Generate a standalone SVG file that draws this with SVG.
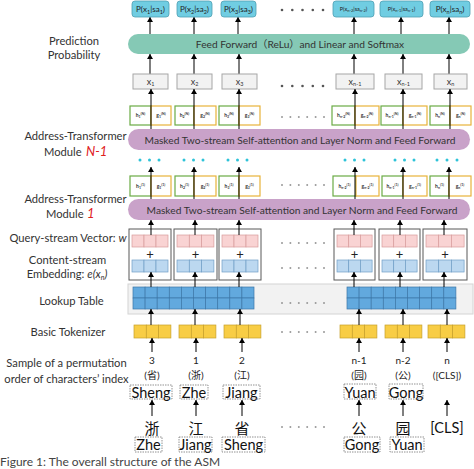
<svg xmlns="http://www.w3.org/2000/svg" width="474" height="469" viewBox="0 0 474 469">
<defs>
<marker id="ah" markerWidth="5" markerHeight="6" refX="5" refY="3" orient="auto" markerUnits="userSpaceOnUse"><path d="M0,0 L5,3 L0,6 z" fill="#000"/></marker>
<style>
text{font-family:Lato,"Liberation Sans",sans-serif;fill:#333}
.lbl{font-size:11.2px;text-anchor:middle}
.red{fill:#e0201c;font-style:italic;font-size:13px}
.arr{stroke:#000;stroke-width:1;fill:none;marker-end:url(#ah)}
.pbox{fill:#70cde2;stroke:#4f9fb3;stroke-width:0.8}
.pt{font-size:8px;text-anchor:middle;fill:#222}
.pts{font-size:5.5px;text-anchor:middle;fill:#222}
.sb{font-size:5.5px}
.sbs{font-size:4px}
.ff{fill:#85c9b5}
.pu{fill:#c9a2c9}
.bt{font-size:10.2px;text-anchor:middle;fill:#333}
.xbox{fill:#f2f2f2;stroke:#a6a6a6;stroke-width:1}
.xt{font-size:9px;text-anchor:middle;fill:#333}
.hb{fill:#fff;stroke:#6aab45;stroke-width:1.2}
.gb{fill:#fff;stroke:#e8b33a;stroke-width:1.2}
.ht{font-size:5px;font-weight:bold;text-anchor:middle;fill:#333}
.hs{font-size:3.5px}
.cd{fill:#2ec3d8}
.gd{fill:#999}
.dd{fill:#555}
.ob{fill:#fff;stroke:#595959;stroke-width:1}
.pk{fill:#f9d3d3;stroke:#d89c9c;stroke-width:0.7}
.lb{fill:#bcd8f0;stroke:#6f9ec6;stroke-width:0.7}
.plus{font-size:13px;text-anchor:middle;fill:#222}
.lt{fill:#f2f2f2;stroke:#d4d4d4;stroke-width:1}
.lc{fill:#62a9de;stroke:#3c77a8;stroke-width:0.7}
.tk{fill:#f8cd45;stroke:#c7a02a;stroke-width:0.7}
.num{font-size:10px;text-anchor:middle;fill:#222}
.par{font-size:10px;text-anchor:middle;fill:#222;font-family:Lato,"Noto Sans CJK SC",sans-serif}
.nb{fill:#fff;stroke:#777;stroke-width:0.8;stroke-dasharray:1.5,1}
.nm{font-size:14.5px;text-anchor:middle;fill:#111}
.cj{font-size:15px;text-anchor:middle;fill:#111;font-family:"Noto Sans CJK SC",sans-serif}
</style>
</defs>
<rect width="474" height="469" fill="#fff"/>

<g id="labels">
<text class="lbl" x="74" y="45">Prediction</text>
<text class="lbl" x="74" y="59">Probability</text>
<text class="lbl" x="75.5" y="140">Address-Transformer</text>
<text class="lbl" x="44" y="156" style="text-anchor:start">Module</text>
<text class="red" x="86" y="156">N-1</text>
<text class="lbl" x="75.5" y="203">Address-Transformer</text>
<text class="lbl" x="46" y="218" style="text-anchor:start">Module</text>
<text class="red" x="87" y="218">1</text>
<text class="lbl" x="68" y="242">Query-stream Vector: <tspan font-style="italic">w</tspan></text>
<text class="lbl" x="67.5" y="264">Content-stream</text>
<text class="lbl" x="67" y="278">Embedding: <tspan font-style="italic">e(x</tspan><tspan font-style="italic" font-size="7px" dy="2">n</tspan><tspan font-style="italic" dy="-2">)</tspan></text>
<text class="lbl" x="71.5" y="305">Lookup Table</text>
<text class="lbl" x="68" y="336">Basic Tokenizer</text>
<text class="lbl" x="66.5" y="367">Sample of a permutation</text>
<text class="lbl" x="66.5" y="383" style="font-family:Lato,'Noto Sans CJK SC',sans-serif">order of characters’ index</text>
<text x="0" y="466" style="font-size:12px;fill:#444">Figure 1: The overall structure of the ASM</text>
</g>

<g id="connectors">
<line class="arr" x1="150" y1="34" x2="150" y2="17"/>
<line class="arr" x1="194" y1="34" x2="194" y2="17"/>
<line class="arr" x1="238" y1="34" x2="238" y2="17"/>
<line class="arr" x1="354" y1="34" x2="354" y2="17"/>
<line class="arr" x1="401" y1="34" x2="401" y2="17"/>
<line class="arr" x1="449" y1="34" x2="449" y2="17"/>
<line class="arr" x1="150" y1="74" x2="150" y2="54"/>
<line class="arr" x1="194" y1="74" x2="194" y2="54"/>
<line class="arr" x1="239" y1="74" x2="239" y2="54"/>
<line class="arr" x1="354" y1="74" x2="354" y2="54"/>
<line class="arr" x1="403" y1="74" x2="403" y2="54"/>
<line class="arr" x1="449" y1="74" x2="449" y2="54"/>
</g>

<g id="prob">
<rect class="pbox" x="132" y="1" width="37" height="16" rx="3"/>
<rect class="pbox" x="177" y="1" width="35" height="16" rx="3"/>
<rect class="pbox" x="221" y="1" width="35" height="16" rx="3"/>
<rect class="pbox" x="333" y="1" width="41" height="16" rx="3"/>
<rect class="pbox" x="380" y="1" width="43" height="16" rx="3"/>
<rect class="pbox" x="430" y="1" width="40" height="16" rx="3"/>
<text class="pt" x="150.5" y="12">P(x<tspan class="sb" dy="1.5">1</tspan><tspan dy="-1.5">|sa</tspan><tspan class="sb" dy="1.5">1</tspan><tspan dy="-1.5">)</tspan></text>
<text class="pt" x="194.5" y="12">P(x<tspan class="sb" dy="1.5">2</tspan><tspan dy="-1.5">|sa</tspan><tspan class="sb" dy="1.5">2</tspan><tspan dy="-1.5">)</tspan></text>
<text class="pt" x="238.5" y="12">P(x<tspan class="sb" dy="1.5">3</tspan><tspan dy="-1.5">|sa</tspan><tspan class="sb" dy="1.5">3</tspan><tspan dy="-1.5">)</tspan></text>
<text class="pts" x="353.5" y="11">P(x<tspan class="sbs" dy="1">n-2</tspan><tspan dy="-1">|sa</tspan><tspan class="sbs" dy="1">n-2</tspan><tspan dy="-1">)</tspan></text>
<text class="pts" x="401.5" y="11">P(x<tspan class="sbs" dy="1">n-1</tspan><tspan dy="-1">|sa</tspan><tspan class="sbs" dy="1">n-1</tspan><tspan dy="-1">)</tspan></text>
<text class="pt" x="450" y="12">P(x<tspan class="sb" dy="1.5">n</tspan><tspan dy="-1.5">|sa</tspan><tspan class="sb" dy="1.5">n</tspan><tspan dy="-1.5">)</tspan></text>
<g class="dd"><circle cx="282" cy="10" r="1.3"/><circle cx="292.3" cy="10" r="1.3"/><circle cx="302.5" cy="10" r="1.3"/><circle cx="312.8" cy="10" r="1.3"/><circle cx="323" cy="10" r="1.3"/></g>
</g>

<g id="feedforward">
<rect class="ff" x="128" y="34" width="342" height="20" rx="10"/>
<text class="bt" x="300" y="48" style="font-family:Lato,'Noto Sans CJK SC',sans-serif">Feed Forward（ReLu）and Linear and Softmax</text>
</g>

<g id="xrow">
<rect class="xbox" x="133" y="74" width="35" height="15"/>
<rect class="xbox" x="177" y="74" width="35" height="15"/>
<rect class="xbox" x="222" y="74" width="35" height="15"/>
<rect class="xbox" x="336" y="74" width="38" height="15"/>
<rect class="xbox" x="385" y="74" width="37" height="15"/>
<rect class="xbox" x="434" y="74" width="33" height="15"/>
<text class="xt" x="150.5" y="84.5">x<tspan class="sb" dy="1.5">1</tspan></text>
<text class="xt" x="194.5" y="84.5">x<tspan class="sb" dy="1.5">2</tspan></text>
<text class="xt" x="239.5" y="84.5">x<tspan class="sb" dy="1.5">3</tspan></text>
<text class="xt" x="355" y="84.5">x<tspan class="sb" dy="1.5">n-1</tspan></text>
<text class="xt" x="403.5" y="84.5">x<tspan class="sb" dy="1.5">n-1</tspan></text>
<text class="xt" x="450.5" y="84.5">x<tspan class="sb" dy="1.5">n</tspan></text>
<g class="dd"><circle cx="282" cy="86" r="1.3"/><circle cx="292.3" cy="86" r="1.3"/><circle cx="302.5" cy="86" r="1.3"/><circle cx="312.8" cy="86" r="1.3"/><circle cx="323" cy="86" r="1.3"/></g>
</g>

<g id="moduleN">
<rect class="hb" x="130" y="106" width="21" height="19"/><rect class="gb" x="151" y="106" width="20" height="19"/>
<rect class="hb" x="175" y="106" width="19" height="19"/><rect class="gb" x="194" y="106" width="22" height="19"/>
<rect class="hb" x="219" y="106" width="20" height="19"/><rect class="gb" x="239" y="106" width="21" height="19"/>
<rect class="hb" x="332" y="106" width="23" height="19"/><rect class="gb" x="355" y="106" width="24" height="19"/>
<rect class="hb" x="381" y="106" width="22" height="19"/><rect class="gb" x="403" y="106" width="24" height="19"/>
<rect class="hb" x="430" y="106" width="20" height="19"/><rect class="gb" x="450" y="106" width="21" height="19"/>
<text class="ht" x="140.5" y="117">h<tspan class="hs" dy="1">1</tspan><tspan class="hs" dy="-3">(N)</tspan></text>
<text class="ht" x="161" y="117">g<tspan class="hs" dy="1">1</tspan><tspan class="hs" dy="-3">(N)</tspan></text>
<text class="ht" x="184.5" y="117">h<tspan class="hs" dy="1">2</tspan><tspan class="hs" dy="-3">(N)</tspan></text>
<text class="ht" x="205" y="117">g<tspan class="hs" dy="1">2</tspan><tspan class="hs" dy="-3">(N)</tspan></text>
<text class="ht" x="229" y="117">h<tspan class="hs" dy="1">3</tspan><tspan class="hs" dy="-3">(N)</tspan></text>
<text class="ht" x="249.5" y="117">g<tspan class="hs" dy="1">3</tspan><tspan class="hs" dy="-3">(N)</tspan></text>
<text class="ht" x="343.5" y="117">h<tspan class="hs" dy="1">n-2</tspan><tspan class="hs" dy="-3">(N)</tspan></text>
<text class="ht" x="367" y="117">g<tspan class="hs" dy="1">n-2</tspan><tspan class="hs" dy="-3">(N)</tspan></text>
<text class="ht" x="392" y="117">h<tspan class="hs" dy="1">n-1</tspan><tspan class="hs" dy="-3">(N)</tspan></text>
<text class="ht" x="415" y="117">g<tspan class="hs" dy="1">n-1</tspan><tspan class="hs" dy="-3">(N)</tspan></text>
<text class="ht" x="440" y="117">h<tspan class="hs" dy="1">n</tspan><tspan class="hs" dy="-3">(N)</tspan></text>
<text class="ht" x="460.5" y="117">g<tspan class="hs" dy="1">n</tspan><tspan class="hs" dy="-3">(N)</tspan></text>
<g class="gd"><circle cx="282" cy="117" r="1"/><circle cx="290.4" cy="117" r="1"/><circle cx="298.8" cy="117" r="1"/><circle cx="307.2" cy="117" r="1"/><circle cx="315.6" cy="117" r="1"/><circle cx="324" cy="117" r="1"/></g>
<line class="arr" x1="151" y1="129" x2="151" y2="89"/>
<line class="arr" x1="194" y1="129" x2="194" y2="89"/>
<line class="arr" x1="239" y1="129" x2="239" y2="89"/>
<line class="arr" x1="355" y1="129" x2="355" y2="89"/>
<line class="arr" x1="403" y1="129" x2="403" y2="89"/>
<line class="arr" x1="450" y1="129" x2="450" y2="89"/>
<rect class="pu" x="128" y="129" width="342" height="21" rx="10.5"/>
<text class="bt" x="300" y="143.5">Masked Two-stream Self-attention  and  Layer Norm and Feed Forward</text>
</g>

<g id="dots" class="cd">
<circle cx="140" cy="160" r="1.5"/><circle cx="149.5" cy="160" r="1.5"/><circle cx="159" cy="160" r="1.5"/>
<circle cx="184" cy="160" r="1.5"/><circle cx="193.5" cy="160" r="1.5"/><circle cx="203" cy="160" r="1.5"/>
<circle cx="228" cy="160" r="1.5"/><circle cx="237.5" cy="160" r="1.5"/><circle cx="247" cy="160" r="1.5"/>
<circle cx="345" cy="160" r="1.5"/><circle cx="354.5" cy="160" r="1.5"/><circle cx="364" cy="160" r="1.5"/>
<circle cx="395" cy="160" r="1.5"/><circle cx="404.5" cy="160" r="1.5"/><circle cx="414" cy="160" r="1.5"/>
<circle cx="437" cy="160" r="1.5"/><circle cx="447" cy="160" r="1.5"/><circle cx="457" cy="160" r="1.5"/>
</g>

<g id="module1">
<rect class="hb" x="130" y="176" width="21" height="20"/><rect class="gb" x="151" y="176" width="20" height="20"/>
<rect class="hb" x="175" y="176" width="19" height="20"/><rect class="gb" x="194" y="176" width="22" height="20"/>
<rect class="hb" x="219" y="176" width="20" height="20"/><rect class="gb" x="239" y="176" width="21" height="20"/>
<rect class="hb" x="333" y="176" width="23" height="20"/><rect class="gb" x="356" y="176" width="23" height="20"/>
<rect class="hb" x="382" y="176" width="21" height="20"/><rect class="gb" x="403" y="176" width="24" height="20"/>
<rect class="hb" x="430" y="176" width="19" height="20"/><rect class="gb" x="449" y="176" width="22" height="20"/>
<text class="ht" x="140.5" y="188">h<tspan class="hs" dy="1">1</tspan><tspan class="hs" dy="-3">(1)</tspan></text>
<text class="ht" x="161" y="188">g<tspan class="hs" dy="1">1</tspan><tspan class="hs" dy="-3">(1)</tspan></text>
<text class="ht" x="184.5" y="188">h<tspan class="hs" dy="1">2</tspan><tspan class="hs" dy="-3">(1)</tspan></text>
<text class="ht" x="205" y="188">g<tspan class="hs" dy="1">2</tspan><tspan class="hs" dy="-3">(1)</tspan></text>
<text class="ht" x="229" y="188">h<tspan class="hs" dy="1">3</tspan><tspan class="hs" dy="-3">(1)</tspan></text>
<text class="ht" x="249.5" y="188">g<tspan class="hs" dy="1">3</tspan><tspan class="hs" dy="-3">(1)</tspan></text>
<text class="ht" x="344.5" y="188">h<tspan class="hs" dy="1">n-2</tspan><tspan class="hs" dy="-3">(1)</tspan></text>
<text class="ht" x="367.5" y="188">g<tspan class="hs" dy="1">n-2</tspan><tspan class="hs" dy="-3">(1)</tspan></text>
<text class="ht" x="392.5" y="188">h<tspan class="hs" dy="1">n-1</tspan><tspan class="hs" dy="-3">(1)</tspan></text>
<text class="ht" x="415" y="188">g<tspan class="hs" dy="1">n-1</tspan><tspan class="hs" dy="-3">(1)</tspan></text>
<text class="ht" x="439.5" y="188">h<tspan class="hs" dy="1">n</tspan><tspan class="hs" dy="-3">(1)</tspan></text>
<text class="ht" x="460" y="188">g<tspan class="hs" dy="1">n</tspan><tspan class="hs" dy="-3">(1)</tspan></text>
<g class="gd"><circle cx="282" cy="185" r="1"/><circle cx="290.4" cy="185" r="1"/><circle cx="298.8" cy="185" r="1"/><circle cx="307.2" cy="185" r="1"/><circle cx="315.6" cy="185" r="1"/><circle cx="324" cy="185" r="1"/></g>
<line class="arr" x1="151" y1="199" x2="151" y2="167"/>
<line class="arr" x1="194" y1="199" x2="194" y2="167"/>
<line class="arr" x1="239" y1="199" x2="239" y2="167"/>
<line class="arr" x1="355" y1="199" x2="355" y2="167"/>
<line class="arr" x1="403" y1="199" x2="403" y2="167"/>
<line class="arr" x1="449" y1="199" x2="449" y2="167"/>
<rect class="pu" x="128" y="199" width="342" height="21" rx="10.5"/>
<text class="bt" x="302" y="213.5">Masked Two-stream Self-attention  and Layer Norm and Feed Forward</text>
</g>

<g id="embedding">
<rect class="ob" x="129" y="229" width="42" height="51"/>
<rect class="ob" x="174" y="229" width="43" height="51"/>
<rect class="ob" x="219" y="229" width="42" height="51"/>
<rect class="ob" x="334" y="229" width="41" height="51"/>
<rect class="ob" x="379" y="229" width="41" height="51"/>
<rect class="ob" x="423" y="229" width="44" height="51"/>
<g class="pk">
<rect x="132" y="235" width="12" height="12"/><rect x="144" y="235" width="12" height="12"/><rect x="156" y="235" width="12" height="12"/>
<rect x="177" y="235" width="12.3" height="12"/><rect x="189.3" y="235" width="12.3" height="12"/><rect x="201.6" y="235" width="12.3" height="12"/>
<rect x="222" y="235" width="12" height="12"/><rect x="234" y="235" width="12" height="12"/><rect x="246" y="235" width="12" height="12"/>
<rect x="337" y="235" width="11.7" height="12"/><rect x="348.7" y="235" width="11.7" height="12"/><rect x="360.4" y="235" width="11.7" height="12"/>
<rect x="382" y="235" width="11.7" height="12"/><rect x="393.7" y="235" width="11.7" height="12"/><rect x="405.4" y="235" width="11.7" height="12"/>
<rect x="426" y="235" width="12.7" height="12"/><rect x="438.7" y="235" width="12.7" height="12"/><rect x="451.4" y="235" width="12.7" height="12"/>
</g>
<g class="lb">
<rect x="132" y="260" width="12" height="12"/><rect x="144" y="260" width="12" height="12"/><rect x="156" y="260" width="12" height="12"/>
<rect x="177" y="260" width="12.3" height="12"/><rect x="189.3" y="260" width="12.3" height="12"/><rect x="201.6" y="260" width="12.3" height="12"/>
<rect x="222" y="260" width="12" height="12"/><rect x="234" y="260" width="12" height="12"/><rect x="246" y="260" width="12" height="12"/>
<rect x="337" y="260" width="11.7" height="12"/><rect x="348.7" y="260" width="11.7" height="12"/><rect x="360.4" y="260" width="11.7" height="12"/>
<rect x="382" y="260" width="11.7" height="12"/><rect x="393.7" y="260" width="11.7" height="12"/><rect x="405.4" y="260" width="11.7" height="12"/>
<rect x="426" y="260" width="12.7" height="12"/><rect x="438.7" y="260" width="12.7" height="12"/><rect x="451.4" y="260" width="12.7" height="12"/>
</g>
<text class="plus" x="150" y="258.5">+</text>
<text class="plus" x="195.5" y="258.5">+</text>
<text class="plus" x="240" y="258.5">+</text>
<text class="plus" x="354.5" y="258.5">+</text>
<text class="plus" x="399.5" y="258.5">+</text>
<text class="plus" x="445" y="258.5">+</text>
<g class="gd"><circle cx="282" cy="243" r="1"/><circle cx="290.4" cy="243" r="1"/><circle cx="298.8" cy="243" r="1"/><circle cx="307.2" cy="243" r="1"/><circle cx="315.6" cy="243" r="1"/><circle cx="324" cy="243" r="1"/></g>
<g class="gd"><circle cx="282" cy="268" r="1"/><circle cx="290.4" cy="268" r="1"/><circle cx="298.8" cy="268" r="1"/><circle cx="307.2" cy="268" r="1"/><circle cx="315.6" cy="268" r="1"/><circle cx="324" cy="268" r="1"/></g>
<line class="arr" x1="151" y1="235" x2="151" y2="220"/>
<line class="arr" x1="195" y1="235" x2="195" y2="220"/>
<line class="arr" x1="239" y1="235" x2="239" y2="220"/>
<line class="arr" x1="354" y1="235" x2="354" y2="220"/>
<line class="arr" x1="400" y1="235" x2="400" y2="220"/>
<line class="arr" x1="444" y1="235" x2="444" y2="220"/>
</g>

<g id="lookup">
<rect class="lt" x="128" y="284" width="345" height="30"/>
<g class="lc">
<rect x="133" y="287" width="12.1" height="11"/><rect x="145.1" y="287" width="12.1" height="11"/><rect x="157.2" y="287" width="12.1" height="11"/><rect x="169.3" y="287" width="12.1" height="11"/><rect x="181.4" y="287" width="12.1" height="11"/><rect x="193.5" y="287" width="12.1" height="11"/><rect x="205.6" y="287" width="12.1" height="11"/><rect x="217.7" y="287" width="12.1" height="11"/><rect x="229.8" y="287" width="12.1" height="11"/><rect x="241.9" y="287" width="12.1" height="11"/>
<rect x="133" y="298" width="12.1" height="11"/><rect x="145.1" y="298" width="12.1" height="11"/><rect x="157.2" y="298" width="12.1" height="11"/><rect x="169.3" y="298" width="12.1" height="11"/><rect x="181.4" y="298" width="12.1" height="11"/><rect x="193.5" y="298" width="12.1" height="11"/><rect x="205.6" y="298" width="12.1" height="11"/><rect x="217.7" y="298" width="12.1" height="11"/><rect x="229.8" y="298" width="12.1" height="11"/><rect x="241.9" y="298" width="12.1" height="11"/>
<rect x="347" y="287" width="12.1" height="11"/><rect x="359.1" y="287" width="12.1" height="11"/><rect x="371.2" y="287" width="12.1" height="11"/><rect x="383.3" y="287" width="12.1" height="11"/><rect x="395.4" y="287" width="12.1" height="11"/><rect x="407.5" y="287" width="12.1" height="11"/><rect x="419.6" y="287" width="12.1" height="11"/><rect x="431.7" y="287" width="12.1" height="11"/><rect x="443.8" y="287" width="12.1" height="11"/>
<rect x="347" y="298" width="12.1" height="11"/><rect x="359.1" y="298" width="12.1" height="11"/><rect x="371.2" y="298" width="12.1" height="11"/><rect x="383.3" y="298" width="12.1" height="11"/><rect x="395.4" y="298" width="12.1" height="11"/><rect x="407.5" y="298" width="12.1" height="11"/><rect x="419.6" y="298" width="12.1" height="11"/><rect x="431.7" y="298" width="12.1" height="11"/><rect x="443.8" y="298" width="12.1" height="11"/>
</g>
<g class="gd"><circle cx="282" cy="303" r="1"/><circle cx="290.4" cy="303" r="1"/><circle cx="298.8" cy="303" r="1"/><circle cx="307.2" cy="303" r="1"/><circle cx="315.6" cy="303" r="1"/><circle cx="324" cy="303" r="1"/></g>
<line class="arr" x1="151" y1="287" x2="151" y2="272"/>
<line class="arr" x1="195" y1="287" x2="195" y2="272"/>
<line class="arr" x1="239" y1="287" x2="239" y2="272"/>
<line class="arr" x1="354" y1="287" x2="354" y2="272"/>
<line class="arr" x1="400" y1="287" x2="400" y2="272"/>
<line class="arr" x1="444" y1="287" x2="444" y2="272"/>
</g>

<g id="tokenizer">
<g class="tk">
<rect x="134" y="325" width="12.3" height="13"/><rect x="146.3" y="325" width="12.3" height="13"/><rect x="158.6" y="325" width="12.3" height="13"/>
<rect x="179" y="325" width="12.3" height="13"/><rect x="191.3" y="325" width="12.3" height="13"/><rect x="203.6" y="325" width="12.3" height="13"/>
<rect x="224" y="325" width="12.3" height="13"/><rect x="236.3" y="325" width="12.3" height="13"/><rect x="248.6" y="325" width="12.3" height="13"/>
<rect x="340" y="325" width="12.3" height="13"/><rect x="352.3" y="325" width="12.3" height="13"/><rect x="364.6" y="325" width="12.3" height="13"/>
<rect x="385" y="325" width="12.3" height="13"/><rect x="397.3" y="325" width="12.3" height="13"/><rect x="409.6" y="325" width="12.3" height="13"/>
<rect x="428" y="325" width="12.3" height="13"/><rect x="440.3" y="325" width="12.3" height="13"/><rect x="452.6" y="325" width="12.3" height="13"/>
</g>
<g class="gd"><circle cx="282" cy="332" r="1"/><circle cx="290.4" cy="332" r="1"/><circle cx="298.8" cy="332" r="1"/><circle cx="307.2" cy="332" r="1"/><circle cx="315.6" cy="332" r="1"/><circle cx="324" cy="332" r="1"/></g>
<line class="arr" x1="151" y1="325" x2="151" y2="309"/>
<line class="arr" x1="195" y1="325" x2="195" y2="309"/>
<line class="arr" x1="240" y1="325" x2="240" y2="309"/>
<line class="arr" x1="359" y1="325" x2="359" y2="309"/>
<line class="arr" x1="403" y1="325" x2="403" y2="309"/>
<line class="arr" x1="447" y1="325" x2="447" y2="309"/>
</g>

<g id="sequence">
<line class="arr" x1="152" y1="352" x2="152" y2="338"/>
<line class="arr" x1="196" y1="352" x2="196" y2="338"/>
<line class="arr" x1="242" y1="352" x2="242" y2="338"/>
<line class="arr" x1="359" y1="352" x2="359" y2="338"/>
<line class="arr" x1="403" y1="352" x2="403" y2="338"/>
<line class="arr" x1="447" y1="352" x2="447" y2="338"/>
<text class="num" x="152" y="364">3</text>
<text class="num" x="196" y="364">1</text>
<text class="num" x="242" y="364">2</text>
<text class="num" x="359" y="364">n-1</text>
<text class="num" x="403" y="364">n-2</text>
<text class="num" x="447" y="364">n</text>
<text class="par" x="152" y="379">(省)</text>
<text class="par" x="196" y="379">(浙)</text>
<text class="par" x="242" y="379">(江)</text>
<text class="par" x="359" y="379">(园)</text>
<text class="par" x="403" y="379">(公)</text>
<text class="par" x="447" y="379">([CLS])</text>
<rect class="nb" x="130" y="385" width="42" height="14"/>
<rect class="nb" x="180" y="385" width="28" height="14"/>
<rect class="nb" x="223" y="385" width="37" height="14"/>
<rect class="nb" x="344" y="384" width="32" height="15"/>
<rect class="nb" x="389" y="384" width="34" height="15"/>
<text class="nm" x="151" y="397.5">Sheng</text>
<text class="nm" x="194" y="397.5">Zhe</text>
<text class="nm" x="241.5" y="397.5">Jiang</text>
<text class="nm" x="360" y="397.5">Yuan</text>
<text class="nm" x="406" y="397.5">Gong</text>
<line class="arr" x1="152" y1="416" x2="152" y2="400"/>
<line class="arr" x1="196" y1="416" x2="196" y2="400"/>
<line class="arr" x1="242" y1="416" x2="242" y2="400"/>
<line class="arr" x1="359" y1="416" x2="359" y2="400"/>
<line class="arr" x1="403" y1="416" x2="403" y2="400"/>
<line class="arr" x1="447" y1="416" x2="447" y2="400"/>
<text class="cj" x="152" y="434">浙</text>
<text class="cj" x="196" y="434">江</text>
<text class="cj" x="242" y="434">省</text>
<text class="cj" x="359" y="434">公</text>
<text class="cj" x="403" y="434">园</text>
<text class="nm" x="447" y="433">[CLS]</text>
<g class="gd"><circle cx="282" cy="427" r="1"/><circle cx="290.4" cy="427" r="1"/><circle cx="298.8" cy="427" r="1"/><circle cx="307.2" cy="427" r="1"/><circle cx="315.6" cy="427" r="1"/><circle cx="324" cy="427" r="1"/></g>
<rect class="nb" x="135" y="437" width="27" height="15"/>
<rect class="nb" x="179" y="437" width="33" height="15"/>
<rect class="nb" x="222" y="437" width="43" height="15"/>
<rect class="nb" x="344" y="437" width="36" height="15"/>
<rect class="nb" x="390" y="437" width="34" height="15"/>
<text class="nm" x="148.5" y="450">Zhe</text>
<text class="nm" x="195.5" y="450">Jiang</text>
<text class="nm" x="243.5" y="450">Sheng</text>
<text class="nm" x="362" y="450">Gong</text>
<text class="nm" x="407" y="450">Yuan</text>
</g>
</svg>
